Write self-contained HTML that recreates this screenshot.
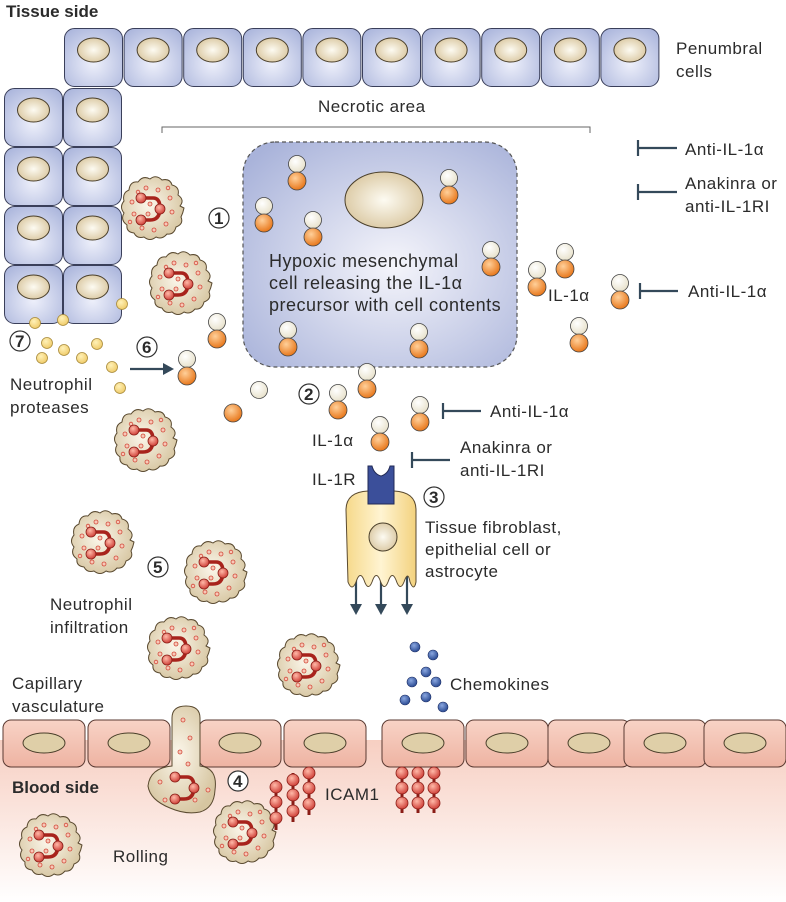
<!DOCTYPE html>
<html><head><meta charset="utf-8"><style>
html,body{margin:0;padding:0;background:#fff}
svg{display:block}
text{font-family:"Liberation Sans",sans-serif;font-size:17px;letter-spacing:0.5px;fill:#2b2b2b}
.b{font-weight:bold}
</style></head><body>
<svg width="786" height="902" viewBox="0 0 786 902" xmlns="http://www.w3.org/2000/svg">
<defs>
<radialGradient id="gc" cx="50%" cy="60%" r="75%"><stop offset="0" stop-color="#eef0fb"/><stop offset="1" stop-color="#a7b2da"/></radialGradient>
<radialGradient id="gn" cx="50%" cy="50%" r="60%"><stop offset="0" stop-color="#fdfbf2"/><stop offset="1" stop-color="#d7c39a"/></radialGradient>
<radialGradient id="gbig" cx="55%" cy="55%" r="70%"><stop offset="0" stop-color="#f5f5fb"/><stop offset="1" stop-color="#a9b3da"/></radialGradient>
<radialGradient id="gneu" cx="45%" cy="45%" r="60%"><stop offset="0" stop-color="#fbf6ea"/><stop offset="1" stop-color="#d6c5a0"/></radialGradient>
<radialGradient id="go" cx="40%" cy="35%" r="65%"><stop offset="0" stop-color="#ffd09a"/><stop offset="1" stop-color="#e8781c"/></radialGradient>
<radialGradient id="gw" cx="40%" cy="35%" r="65%"><stop offset="0" stop-color="#ffffff"/><stop offset="1" stop-color="#e8e2cc"/></radialGradient>
<radialGradient id="gr" cx="40%" cy="35%" r="65%"><stop offset="0" stop-color="#ffb9a8"/><stop offset="1" stop-color="#d0423a"/></radialGradient>
<radialGradient id="gy" cx="40%" cy="35%" r="65%"><stop offset="0" stop-color="#fff1b8"/><stop offset="1" stop-color="#f0cc6a"/></radialGradient>
<radialGradient id="gb" cx="40%" cy="35%" r="65%"><stop offset="0" stop-color="#8aa7e0"/><stop offset="1" stop-color="#2a4a92"/></radialGradient>
<linearGradient id="gend" x1="0" y1="0" x2="0" y2="1"><stop offset="0" stop-color="#f8d3c6"/><stop offset="1" stop-color="#eeb3a2"/></linearGradient>
<linearGradient id="gblood" x1="0" y1="0" x2="0" y2="1"><stop offset="0" stop-color="#f7cfc2"/><stop offset="1" stop-color="#fff"/></linearGradient>
<linearGradient id="gfib" x1="0" y1="0" x2="1" y2="0"><stop offset="0" stop-color="#f6d98a"/><stop offset=".5" stop-color="#fff4d2"/><stop offset="1" stop-color="#f3d27e"/></linearGradient>
<g id="cell"><rect x="0.5" y="0.5" width="58" height="58" rx="10" fill="url(#gc)" stroke="#3a3f5a" stroke-width="1"/><ellipse cx="29.5" cy="22" rx="16" ry="12" fill="url(#gn)" stroke="#4a3f2a" stroke-width="1"/></g>
<g id="end"><rect x="0" y="0" width="82" height="47" rx="8" fill="url(#gend)" stroke="#5a3a32" stroke-width="1"/><ellipse cx="41" cy="23" rx="21" ry="10" fill="#dfcfa8" stroke="#4a3f2a" stroke-width="1"/></g>
<g id="dim"><circle cx="0" cy="0" r="8.5" fill="url(#gw)" stroke="#444" stroke-width="0.8"/><circle cx="0" cy="17" r="9" fill="url(#go)" stroke="#444" stroke-width="0.8"/></g>
<g id="neu">
<path d="M32,0 Q31,5 29,9 Q32,16 24,19 Q22,27 15,26 Q10,32 4,29 Q-2,34 -8,29 Q-15,31 -18,25 Q-26,24 -25,17 Q-32,12 -28,5 Q-33,-1 -28,-7 Q-30,-15 -23,-18 Q-22,-27 -14,-26 Q-9,-33 -2,-29 Q4,-34 10,-28 Q18,-30 20,-23 Q28,-21 26,-13 Q33,-8 28,-2 Z" fill="url(#gneu)" stroke="#5a4a30" stroke-width="1" stroke-linejoin="round"/>
<g fill="#f8c8b8" stroke="#d24a3a" stroke-width="0.8">
<circle cx="-20" cy="-6" r="2"/><circle cx="-18" cy="6" r="2"/><circle cx="-6" cy="-20" r="2"/><circle cx="6" cy="-18" r="2"/><circle cx="18" cy="-10" r="2"/><circle cx="20" cy="4" r="2"/><circle cx="14" cy="16" r="2"/><circle cx="2" cy="22" r="2"/><circle cx="-10" cy="20" r="2"/><circle cx="-2" cy="-4" r="2"/><circle cx="-4" cy="6" r="2"/><circle cx="16" cy="-20" r="1.8"/><circle cx="-14" cy="-16" r="1.8"/><circle cx="-22" cy="14" r="1.8"/>
</g>
<path d="M-11,-10 H1 Q8,-10 8,0 Q8,12 -2,12 H-11" fill="none" stroke="#a8231c" stroke-width="3.5"/>
<circle cx="-11" cy="-10" r="5" fill="url(#gr)" stroke="#8a1c16" stroke-width=".8"/><circle cx="8" cy="1" r="5" fill="url(#gr)" stroke="#8a1c16" stroke-width=".8"/><circle cx="-11" cy="12" r="5" fill="url(#gr)" stroke="#8a1c16" stroke-width=".8"/>
</g>
<g id="num"><circle r="10" fill="#fff" stroke="#333" stroke-width="1.2"/></g>
</defs>

<text x="6" y="17" class="b" style="letter-spacing:0">Tissue side</text>

<rect x="0" y="740" width="786" height="162" fill="url(#gblood)"/>

<use href="#cell" x="64" y="28"/><use href="#cell" x="123.6" y="28"/><use href="#cell" x="183.2" y="28"/><use href="#cell" x="242.8" y="28"/><use href="#cell" x="302.4" y="28"/><use href="#cell" x="362" y="28"/><use href="#cell" x="421.6" y="28"/><use href="#cell" x="481.2" y="28"/><use href="#cell" x="540.8" y="28"/><use href="#cell" x="600.4" y="28"/>
<use href="#cell" x="4" y="88"/><use href="#cell" x="63" y="88"/><use href="#cell" x="4" y="147"/><use href="#cell" x="63" y="147"/><use href="#cell" x="4" y="206"/><use href="#cell" x="63" y="206"/><use href="#cell" x="4" y="265"/><use href="#cell" x="63" y="265"/>

<text x="676" y="54">Penumbral</text><text x="676" y="77">cells</text>
<text x="318" y="112">Necrotic area</text>
<path d="M162,133 V127 H590 V133" fill="none" stroke="#666" stroke-width="1"/>

<rect x="243" y="142" width="274" height="225" rx="32" fill="url(#gbig)" stroke="#555" stroke-width="1.2" stroke-dasharray="4,3"/>
<ellipse cx="384" cy="200" rx="39" ry="28" fill="url(#gn)" stroke="#4a3f2a" stroke-width="1"/>
<g style="font-size:18px">
<text x="269" y="267" style="font-size:18px">Hypoxic mesenchymal</text>
<text x="269" y="289" style="font-size:18px">cell releasing the IL-1α</text>
<text x="269" y="311" style="font-size:18px">precursor with cell contents</text>
</g>

<use href="#dim" x="297" y="164"/><use href="#dim" x="449" y="178"/><use href="#dim" x="264" y="206"/><use href="#dim" x="313" y="220"/><use href="#dim" x="491" y="250"/><use href="#dim" x="537" y="270"/><use href="#dim" x="565" y="252"/><use href="#dim" x="620" y="283"/><use href="#dim" x="288" y="330"/><use href="#dim" x="419" y="332"/><use href="#dim" x="579" y="326"/><use href="#dim" x="217" y="322"/><use href="#dim" x="187" y="359"/><use href="#dim" x="367" y="372"/><use href="#dim" x="338" y="393"/><use href="#dim" x="420" y="405"/><use href="#dim" x="380" y="425"/>
<circle cx="259" cy="390" r="8.5" fill="url(#gw)" stroke="#444" stroke-width=".8"/>
<circle cx="233" cy="413" r="9" fill="url(#go)" stroke="#444" stroke-width=".8"/>

<text x="548" y="301">IL-1α</text>

<g stroke="#34495a" stroke-width="2.2" fill="none">
<path d="M638,140 V156 M638,148 H677"/>
<path d="M638,184 V200 M638,192 H677"/>
<path d="M640,283 V299 M640,291 H678"/>
<path d="M443,403 V419 M443,411 H481"/>
<path d="M412,452 V468 M412,460 H450"/>
<path d="M130,369 H165"/>
<path d="M356,560 V606 M381,560 V606 M407,560 V606"/>
</g>
<g fill="#34495a"><path d="M163,363 L174,369 L163,375 Z"/><path d="M350,604 L356,615 L362,604Z"/><path d="M375,604 L381,615 L387,604Z"/><path d="M401,604 L407,615 L413,604Z"/></g>
<text x="685" y="155">Anti-IL-1α</text>
<text x="685" y="189">Anakinra or</text><text x="685" y="212">anti-IL-1RI</text>
<text x="688" y="297">Anti-IL-1α</text>
<text x="490" y="417">Anti-IL-1α</text>
<text x="460" y="453">Anakinra or</text><text x="460" y="476">anti-IL-1RI</text>
<text x="312" y="446">IL-1α</text>
<text x="312" y="485">IL-1R</text>

<path d="M346,510 Q346,492 368,491 H394 Q416,492 416,510 V582 Q414,592 410,582 Q408,570 404,582 Q400,592 396,580 Q392,570 388,582 Q384,592 380,580 Q376,570 372,582 Q368,592 364,580 Q360,570 356,582 Q352,592 348,582 Z" fill="url(#gfib)" stroke="#5a4a30" stroke-width="1"/>
<circle cx="383" cy="537" r="14" fill="url(#gn)" stroke="#4a3f2a" stroke-width="1"/>
<path d="M368,466 V504 H394 V466 H390 Q388,474 381,476 Q374,474 372,466 Z" fill="#3b4f9a" stroke="#222a55" stroke-width="1"/>
<text x="425" y="533">Tissue fibroblast,</text><text x="425" y="555">epithelial cell or</text><text x="425" y="577">astrocyte</text>

<g fill="url(#gy)" stroke="#a88a3a" stroke-width=".8">
<circle cx="122" cy="304" r="5.5"/><circle cx="35" cy="323" r="5.5"/><circle cx="63" cy="320" r="5.5"/><circle cx="47" cy="343" r="5.5"/><circle cx="64" cy="350" r="5.5"/><circle cx="97" cy="344" r="5.5"/><circle cx="42" cy="358" r="5.5"/><circle cx="82" cy="358" r="5.5"/><circle cx="112" cy="367" r="5.5"/><circle cx="120" cy="388" r="5.5"/>
</g>
<text x="10" y="390">Neutrophil</text><text x="10" y="413">proteases</text>

<g fill="url(#gb)" stroke="#1e2f66" stroke-width=".6">
<circle cx="415" cy="647" r="5"/><circle cx="433" cy="655" r="5"/><circle cx="426" cy="672" r="5"/><circle cx="412" cy="682" r="5"/><circle cx="436" cy="682" r="5"/><circle cx="405" cy="700" r="5"/><circle cx="426" cy="697" r="5"/><circle cx="443" cy="707" r="5"/>
</g>
<text x="450" y="690">Chemokines</text>

<use href="#neu" x="152" y="208"/><use href="#neu" x="180" y="283"/><use href="#neu" x="145" y="440"/><use href="#neu" x="102" y="542"/><use href="#neu" x="215" y="572"/><use href="#neu" x="178" y="648"/><use href="#neu" x="308" y="665"/><use href="#neu" x="244" y="832"/><use href="#neu" x="50" y="845"/>

<text x="50" y="610">Neutrophil</text><text x="50" y="633">infiltration</text>
<text x="12" y="689">Capillary</text><text x="12" y="712">vasculature</text>

<use href="#end" x="3" y="720"/><use href="#end" x="88" y="720"/><use href="#end" x="199" y="720"/><use href="#end" x="284" y="720"/><use href="#end" x="382" y="720"/><use href="#end" x="466" y="720"/><use href="#end" x="548" y="720"/><use href="#end" x="624" y="720"/><use href="#end" x="704" y="720"/>

<path d="M172,766 V718 Q172,706 186,706 Q200,706 200,718 V766 Q218,768 215,790 Q214,808 200,812 Q186,815 170,808 Q150,800 148,786 Q150,768 172,766 Z" fill="url(#gneu)" stroke="#5a4a30" stroke-width="1"/>
<g fill="#f8c8b8" stroke="#d24a3a" stroke-width=".8"><circle cx="183" cy="720" r="2"/><circle cx="190" cy="738" r="2"/><circle cx="180" cy="752" r="2"/><circle cx="188" cy="764" r="2"/><circle cx="160" cy="782" r="2"/><circle cx="208" cy="790" r="2"/><circle cx="195" cy="800" r="2"/><circle cx="165" cy="800" r="2"/></g>
<g transform="translate(186,787)"><path d="M-11,-10 H1 Q8,-10 8,0 Q8,12 -2,12 H-11" fill="none" stroke="#a8231c" stroke-width="3.5"/><circle cx="-11" cy="-10" r="5" fill="url(#gr)" stroke="#8a1c16" stroke-width=".8"/><circle cx="8" cy="1" r="5" fill="url(#gr)" stroke="#8a1c16" stroke-width=".8"/><circle cx="-11" cy="12" r="5" fill="url(#gr)" stroke="#8a1c16" stroke-width=".8"/></g>

<g stroke="#8a1c16" stroke-width="3"><path d="M276,780 V830 M293,773 V822 M309,767 V815 M402,767 V813 M418,767 V813 M434,767 V813"/></g>
<g fill="url(#gr)" stroke="#8a1c16" stroke-width=".8">
<circle cx="276" cy="787" r="6"/><circle cx="276" cy="802" r="6"/><circle cx="276" cy="818" r="6"/>
<circle cx="293" cy="780" r="6"/><circle cx="293" cy="795" r="6"/><circle cx="293" cy="811" r="6"/>
<circle cx="309" cy="773" r="6"/><circle cx="309" cy="788" r="6"/><circle cx="309" cy="804" r="6"/>
<circle cx="402" cy="773" r="6"/><circle cx="402" cy="788" r="6"/><circle cx="402" cy="803" r="6"/>
<circle cx="418" cy="773" r="6"/><circle cx="418" cy="788" r="6"/><circle cx="418" cy="803" r="6"/>
<circle cx="434" cy="773" r="6"/><circle cx="434" cy="788" r="6"/><circle cx="434" cy="803" r="6"/>
</g>
<text x="325" y="800">ICAM1</text>
<text x="12" y="793" class="b" style="letter-spacing:0">Blood side</text>
<text x="113" y="862">Rolling</text>

<g>
<use href="#num" x="219" y="218"/><text x="214" y="224" class="b" style="letter-spacing:0">1</text>
<use href="#num" x="309" y="394"/><text x="304" y="400" class="b" style="letter-spacing:0">2</text>
<use href="#num" x="434" y="497"/><text x="429" y="503" class="b" style="letter-spacing:0">3</text>
<use href="#num" x="238" y="781"/><text x="233" y="787" class="b" style="letter-spacing:0">4</text>
<use href="#num" x="158" y="567"/><text x="153" y="573" class="b" style="letter-spacing:0">5</text>
<use href="#num" x="147" y="347"/><text x="142" y="353" class="b" style="letter-spacing:0">6</text>
<use href="#num" x="20" y="341"/><text x="15" y="347" class="b" style="letter-spacing:0">7</text>
</g>
</svg>
</body></html>
